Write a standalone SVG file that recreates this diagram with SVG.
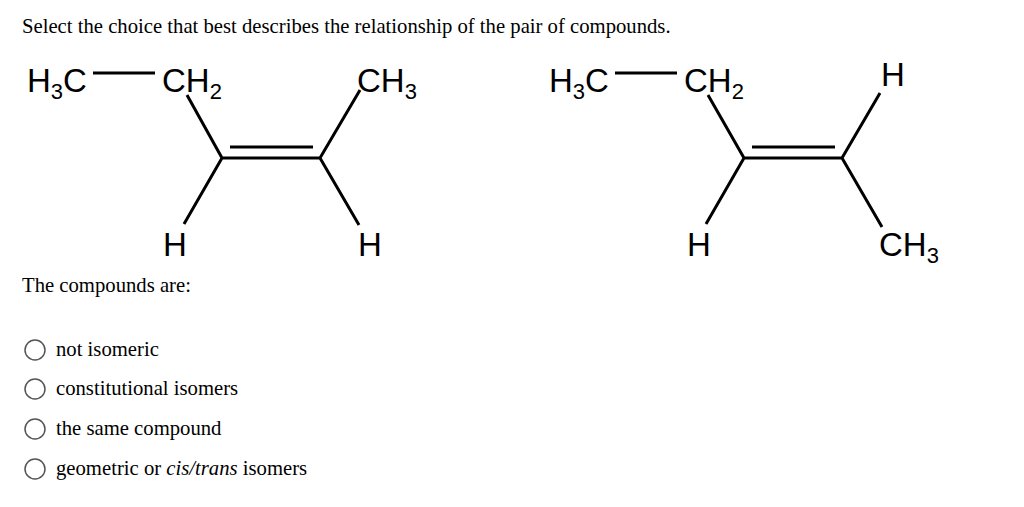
<svg xmlns="http://www.w3.org/2000/svg" width="1024" height="507" viewBox="0 0 1024 507">
<style>
.t{font-family:"Liberation Serif",serif;font-size:20.7px;fill:#000}
.c{font-family:"Liberation Sans",Arial,sans-serif;font-size:33px;fill:#000}
.s{font-size:22px}
.b{stroke:#000;stroke-width:3;fill:none}
.r{fill:#fff;stroke:#555;stroke-width:1.5}
</style>
<rect width="1024" height="507" fill="#fff"/>
<text class="t" x="22" y="33">Select the choice that best describes the relationship of the pair of compounds.</text>
<g id="mol1">
<text class="c" x="27" y="92">H<tspan class="s" dy="7">3</tspan><tspan dy="-7">C</tspan></text>
<text class="c" x="162" y="92">CH<tspan class="s" dy="7">2</tspan></text>
<text class="c" x="357" y="92">CH<tspan class="s" dy="7">3</tspan></text>
<text class="c" x="163" y="256">H</text>
<text class="c" x="358" y="256">H</text>
</g>
<g id="mol2">
<text class="c" x="549" y="92">H<tspan class="s" dy="7">3</tspan><tspan dy="-7">C</tspan></text>
<text class="c" x="684" y="92">CH<tspan class="s" dy="7">2</tspan></text>
<text class="c" x="881" y="86">H</text>
<text class="c" x="687" y="256">H</text>
<text class="c" x="879" y="256">CH<tspan class="s" dy="7">3</tspan></text>
</g>
<g id="bonds">
<path class="b" d="M93 73H155M187 95L222 158H320M230 147H313M360 90L320 158M222 158L184 224M320 158L359 225"/>
<path class="b" d="M615 73H677M708 95L744 158H842M752 147H835M880 93L842 158M744 158L706 224M842 158L882 227"/>
</g>
<text class="t" x="22" y="292">The compounds are:</text>
<g id="options">
<circle class="r" cx="35" cy="350" r="10"/>
<circle class="r" cx="35" cy="389" r="10"/>
<circle class="r" cx="35" cy="429" r="10"/>
<circle class="r" cx="35" cy="469" r="10"/>
<text class="t" x="56" y="356">not isomeric</text>
<text class="t" x="56" y="395">constitutional isomers</text>
<text class="t" x="56" y="435">the same compound</text>
<text class="t" x="56" y="475">geometric or <tspan font-style="italic">cis/trans</tspan> isomers</text>
</g>
</svg>
